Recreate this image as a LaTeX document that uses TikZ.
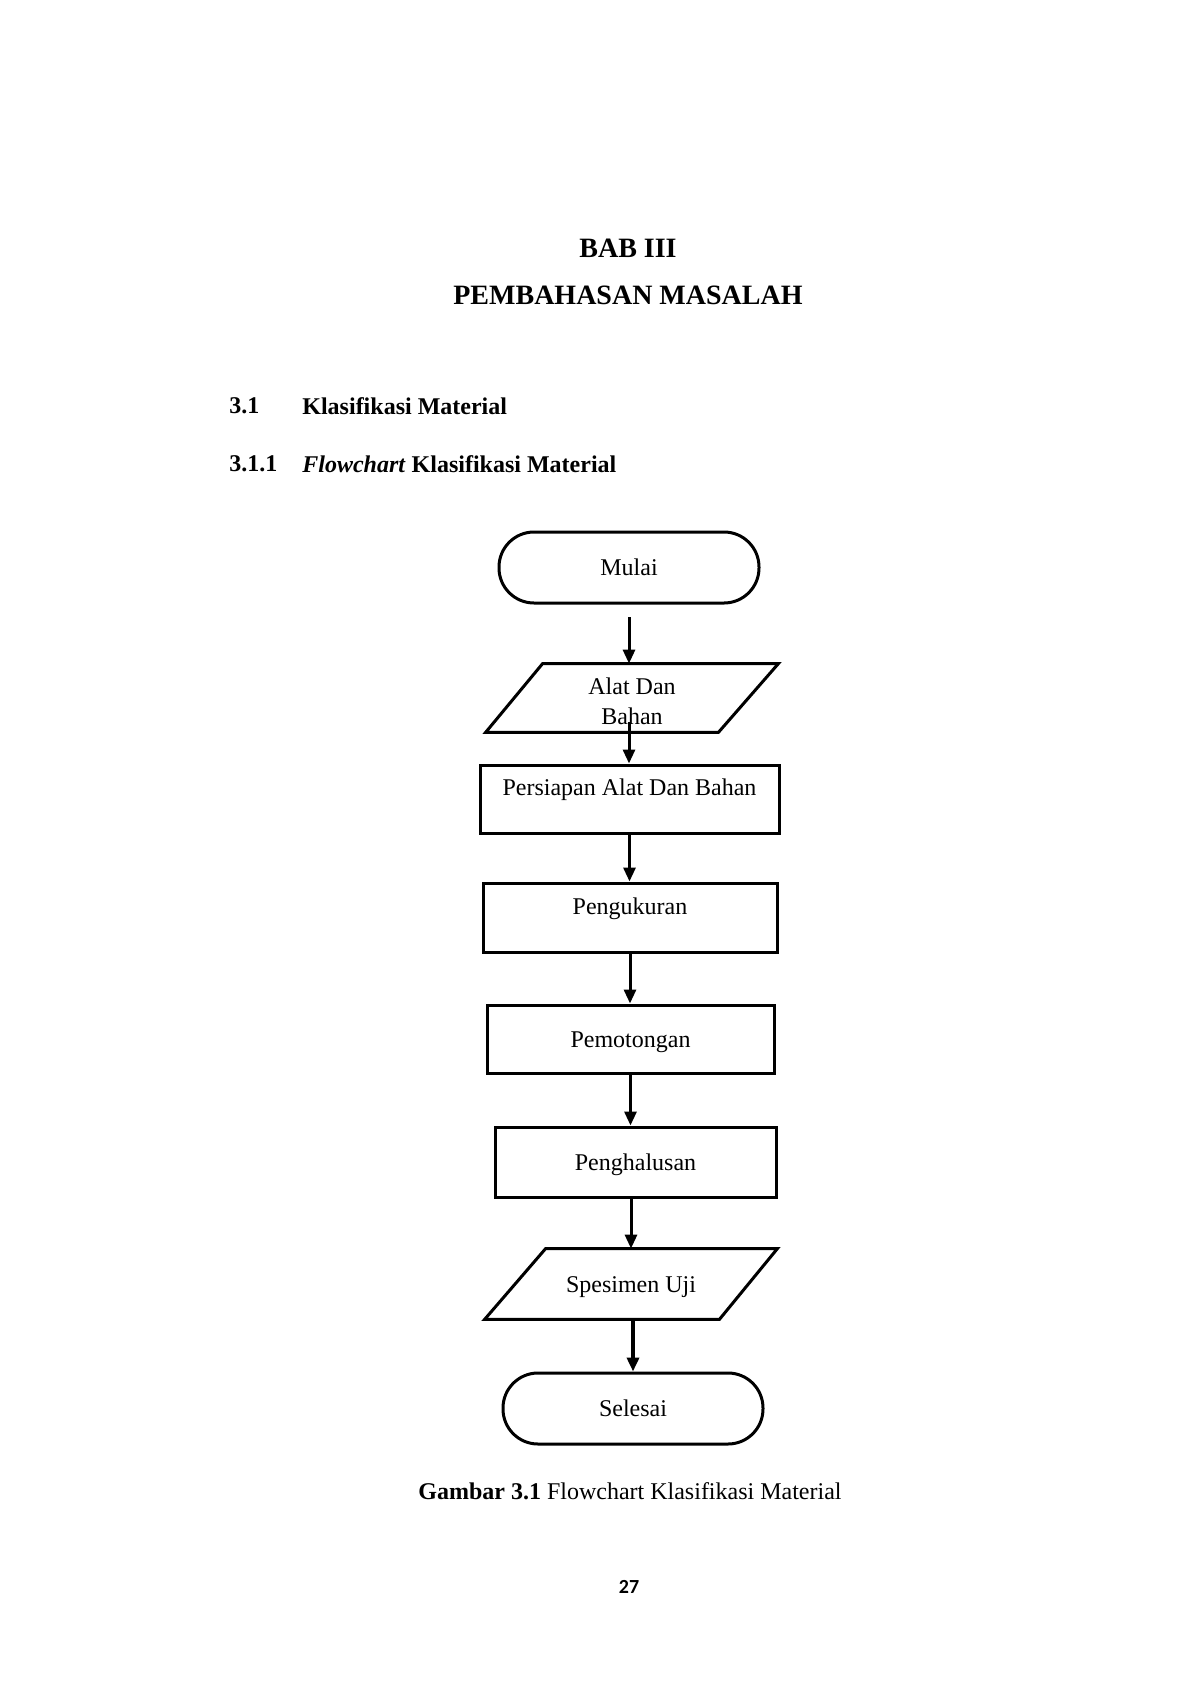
\documentclass[tikz,border=0pt]{standalone}
\usepackage{fontspec}
\setmainfont{Liberation Serif}
\newfontfamily\pagenumfont{Carlito}
\usetikzlibrary{arrows.meta}
\newcommand{\lowtxt}[1]{\raisebox{-1.6pt}[\height][\depth]{#1}}
\begin{document}
\begin{tikzpicture}[x=0.5pt,y=-0.5pt,
  txt/.style={inner sep=0pt, font=\fontsize{12}{15}\selectfont},
  head/.style={inner sep=0pt, font=\fontsize{14}{17}\selectfont\bfseries},
  sect/.style={inner sep=0pt, anchor=west, font=\fontsize{12}{15}\selectfont\bfseries},
  box/.style={draw, line width=1.5pt, rectangle, inner sep=0pt, align=center, font=\fontsize{12}{15}\selectfont},
  term/.style={box, rounded corners=17.5pt},
  io/.style={rectangle, inner sep=0pt, align=center, font=\fontsize{12}{15}\selectfont},
  ioline/.style={line width=1.5pt, line join=miter},
  arr/.style={line width=1.5pt, -{Triangle[width=6pt,length=7pt]}}
]
\fill[white] (0,0) rectangle (1200,1698);
\useasboundingbox (0,0) rectangle (1200,1698);

% headings
\node[head] (bab) at (628,248) {BAB III};
\node[head] (judul) at (628,295) {PEMBAHASAN MASALAH};
\node[sect] (n31) at (229,406) {3.1};
\node[sect] (t31) at (302,406) {Klasifikasi Material};
\node[sect] (n311) at (229,464) {3.1.1};
\node[sect] (t311) at (302,464) {\textit{Flowchart} Klasifikasi Material};

% flowchart
\node[term, minimum width=130pt, minimum height=35.5pt] (mulai) at (629,567.5) {Mulai};

\node[io, minimum width=146pt, minimum height=34pt] (alat) at (632,698) {\lowtxt{Alat Dan}\\\lowtxt{Bahan}};
\draw[ioline] (alat.south west) -- ([xshift=28.5pt]alat.north west) -- (alat.north east) -- ([xshift=-30pt]alat.south east) -- cycle;

\node[box, minimum width=149.5pt, minimum height=34pt] (persiapan) at (629.5,799) {\lowtxt{Persiapan Alat Dan Bahan}\\ \mbox{}};
\node[box, minimum width=147pt, minimum height=34.5pt] (pengukuran) at (630,917.5) {\lowtxt{Pengukuran}\\ \mbox{}};
\node[box, minimum width=143.5pt, minimum height=34pt] (pemotongan) at (630.5,1039) {\lowtxt{Pemotongan}};
\node[box, minimum width=140.5pt, minimum height=35pt] (penghalusan) at (635.5,1162) {\lowtxt{Penghalusan}};

\node[io, minimum width=146pt, minimum height=35pt] (spesimen) at (631,1284) {\lowtxt{Spesimen Uji}};
\draw[ioline] (spesimen.south west) -- ([xshift=30.5pt]spesimen.north west) -- (spesimen.north east) -- ([xshift=-29pt]spesimen.south east) -- cycle;

\node[term, minimum width=130pt, minimum height=35.5pt] (selesai) at (633,1408.5) {Selesai};

% connectors
\coordinate (m1) at (629,617);
\draw[arr] (m1) -- (m1 |- alat.north);
\coordinate (a1) at (629,722);
\draw[arr] (a1) -- (a1 |- persiapan.north);
\draw[arr] (persiapan.south) -- (persiapan.south |- pengukuran.north);
\draw[arr] (pengukuran.south) -- (pengukuran.south |- pemotongan.north);
\draw[arr] (pemotongan.south) -- (pemotongan.south |- penghalusan.north);
\draw[arr] (penghalusan.south -| spesimen.north) -- (spesimen.north);
\draw[arr, line width=2pt] (spesimen.south -| selesai.north) -- (selesai.north);

% caption and page number
\node[txt] (caption) at (630,1491) {\textbf{Gambar 3.1} Flowchart Klasifikasi Material};
\node[inner sep=0pt, font=\pagenumfont\fontsize{10}{12}\selectfont\bfseries] (hal) at (629,1587) {27};
\end{tikzpicture}
\end{document}
